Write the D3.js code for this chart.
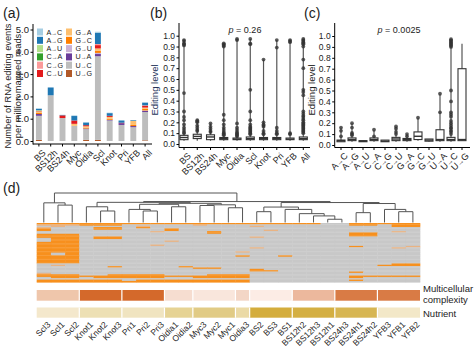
<!DOCTYPE html>
<html><head><meta charset="utf-8">
<script src="https://cdn.jsdelivr.net/npm/d3@7"></script>
<style>body{margin:0;background:#fff}svg{display:block}text{font-family:"Liberation Sans",Arial,sans-serif;fill:#222}</style>
</head><body><svg id="c" width="474" height="353"></svg>
<script>
// ---------------- DATA ----------------
const sampleGroups = ["BS","BS12h","BS24h","Myc","Oidia","Scl","Knot","Pri","YFB","All"];
const editTypes = ["A→C","A→G","A→U","C→A","C→G","C→U","G→A","G→C","G→U","U→A","U→C","U→G"];
const typeColors = ["#a6cee3","#1f78b4","#b2df8a","#33a02c","#fb9a99","#e31a1c","#fdbf6f","#ff7f00","#cab2d6","#6a3d9a","#bdbdbd","#b15928"];
// events per million mapped reads, per sample group
const evAC = [0.03,0.00,0.00,0.03,0.02,0.05,0.02,0.00,0.00,0.02];
const evAG = [0.06,0.35,0.02,0.20,0.12,0.50,0.12,0.10,0.03,0.12];
const evAU = [0.03,0.00,0.00,0.00,0.00,0.00,0.00,0.00,0.00,0.00];
const evCA = [0.00,0.00,0.00,0.00,0.00,0.00,0.00,0.00,0.00,0.00];
const evCG = [0.00,0.00,0.00,0.00,0.00,0.05,0.00,0.00,0.00,0.02];
const evCU = [0.02,0.00,0.12,0.15,0.05,0.15,0.05,0.02,0.00,0.08];
const evGA = [0.07,0.00,0.00,0.09,0.06,0.10,0.08,0.00,0.18,0.05];
const evGC = [0.05,0.00,0.00,0.00,0.04,0.10,0.05,0.00,0.05,0.08];
const evGU = [0.00,0.00,0.00,0.00,0.00,0.05,0.00,0.00,0.00,0.02];
const evUA = [0.08,0.00,0.00,0.00,0.03,0.10,0.03,0.08,0.05,0.05];
const evUC = [1.08,2.05,1.03,0.68,0.48,3.75,0.92,0.72,0.62,1.27];
const evUG = [0.05,0.00,0.00,0.00,0.05,0.05,0.00,0.00,0.00,0.03];
const eventSeries = [evAC,evAG,evAU,evCA,evCG,evCU,evGA,evGC,evGU,evUA,evUC,evUG];
const eventTicks = [0,1,2,3,4,5];

// (b) editing level by sample group
const levelTicks = [0,0.1,0.2,0.3,0.4,0.5,0.6,0.7,0.8,0.9,1.0];
const bLow = [0.03,0.03,0.03,0.03,0.03,0.03,0.03,0.03,0.03,0.03];
const bQ1  = [0.04,0.05,0.04,0.04,0.04,0.04,0.04,0.04,0.04,0.04];
const bMed = [0.06,0.07,0.065,0.05,0.045,0.05,0.05,0.05,0.045,0.05];
const bQ3  = [0.08,0.09,0.085,0.06,0.055,0.065,0.06,0.06,0.055,0.065];
const bOut = [
  [0.96,0.95,0.93,0.92,0.91,0.47,0.30,0.25,0.22,0.18,0.15,0.13,0.11,0.10],
  [0.22,0.21,0.20,0.17,0.15,0.13,0.12],
  [0.19,0.16,0.14,0.12,0.11],
  [0.93,0.92,0.91,0.90,0.27,0.22,0.18,0.15,0.13,0.11,0.10,0.09,0.08],
  [0.97,0.96,0.19,0.15,0.13,0.11,0.10,0.09,0.08,0.07],
  [0.97,0.93,0.92,0.50,0.30,0.22,0.18,0.16,0.15,0.14,0.13,0.12,0.11,0.10,0.09],
  [0.78,0.20,0.18,0.17,0.16,0.12,0.10,0.09],
  [0.96,0.89,0.15,0.12,0.10,0.09],
  [0.96,0.95,0.94,0.10,0.09],
  [0.97,0.96,0.95,0.94,0.93,0.92,0.90,0.78,0.70,0.50,0.48,0.45,0.30,0.28,0.26,0.25,0.23,0.22,0.20,0.19,0.18,0.17,0.16,0.15,0.14,0.13,0.12,0.11,0.10]
];
const bHigh = [0.96,0.22,0.19,0.93,0.97,0.97,0.78,0.96,0.96,0.97];

// (c) editing level by editing type
const cLow = [0.03,0.03,0.03,0.03,0.03,0.03,0.03,0.04,0.03,0.03,0.03,0.04];
const cQ1  = [0.03,0.04,0.03,0.04,0.03,0.04,0.04,0.05,0.035,0.04,0.04,0.04];
const cMed = [0.04,0.05,0.035,0.05,0.035,0.055,0.05,0.08,0.045,0.05,0.05,0.05];
const cQ3  = [0.045,0.065,0.04,0.065,0.045,0.07,0.06,0.12,0.055,0.14,0.07,0.70];
const cHigh = [0.16,0.20,0.04,0.14,0.045,0.17,0.10,0.25,0.055,0.47,0.97,0.93];
const cOut = [
  [0.16,0.13,0.08],[0.20,0.16,0.11,0.10,0.09],[],[0.14,0.08],[],[0.17,0.15,0.12,0.10],
  [0.10,0.08],[0.25],[],[0.47,0.30],
  [0.97,0.96,0.95,0.94,0.93,0.92,0.91,0.90,0.50,0.40,0.30,0.28,0.26,0.22,0.20,0.18,0.16,0.15,0.13,0.12,0.10],
  []
];
const pB = "0.26", pC = "0.0025";

// (d) heatmap
const libraries = ["Scl3","Scl1","Scl2","Knot1","Knot2","Knot3","Pri1","Pri2","Pri3","Oidia1","Oidia2","Myc3","Myc2","Myc1","Oidia3","BS2","BS3","BS1","BS12h2","BS12h3","BS12h1","BS24h3","BS24h1","BS24h2","YFB3","YFB1","YFB2"];
const heatRows = [
"111 111 111 11 111 1 111 110 011 111",
"222 111 000 00 200 0 000 000 011 011",
"020 000 020 00 000 0 200 000 000 011",
"200 011 010 00 000 0 000 000 000 000",
"100 011 000 10 000 0 000 000 000 000",
"100 000 000 10 000 0 020 000 000 000",
"000 000 002 00 010 0 000 000 000 020",
"000 000 000 00 010 0 000 000 011 000",
"111 000 000 00 000 0 000 000 011 000",
"111 000 000 00 000 0 000 000 011 000",
"111 011 000 00 000 0 200 000 000 000",
"011 011 000 00 000 0 000 000 000 000",
"011 000 000 00 000 0 000 000 000 000",
"011 000 000 20 000 0 000 000 000 000",
"111 000 000 00 000 0 000 000 000 000",
"111 000 000 00 000 0 000 000 000 000",
"111 000 002 00 000 0 000 000 000 000",
"111 000 000 00 000 0 000 000 010 002",
"111 000 000 00 000 0 200 000 000 020",
"111 000 000 00 000 0 000 000 000 000",
"111 000 000 00 000 0 000 000 000 000",
"111 000 000 00 000 2 000 000 000 000",
"101 000 000 00 000 0 000 000 000 000",
"101 000 000 00 000 0 000 000 000 000",
"111 000 000 00 000 1 001 000 000 000",
"111 000 000 00 000 0 000 000 000 000",
"111 000 000 00 000 0 000 000 000 000",
"111 000 000 00 000 0 000 000 000 000",
"111 000 000 00 000 0 000 000 000 000",
"111 000 000 00 000 0 000 000 000 000",
"000 000 000 00 000 0 000 000 000 011",
"020 000 000 00 000 0 000 000 000 111",
"000 001 000 01 000 0 000 000 000 000",
"000 000 000 00 110 0 000 000 000 000",
"000 000 000 00 000 0 100 000 000 000",
"000 000 000 00 000 0 110 000 000 000",
"000 000 000 00 000 0 000 000 010 000",
"200 000 000 00 000 0 000 000 000 000",
"111 001 111 00 011 1 000 000 000 000",
"111 111 111 11 111 1 000 000 011 111",
"011 011 111 00 111 1 000 000 010 000",
"000 000 000 00 000 0 000 000 000 000",
"111 111 011 11 111 1 000 000 010 000",
"111 111 111 11 111 1 000 000 000 000"
];
// dendrogram: [height, left, right]
const dendro = [30,
  [20, "Scl3", [17.7, "Scl1", "Scl2"]],
  [21.3,
    [20.5,
      [16, "Knot1", [11.7, "Knot2", "Knot3"]],
      [19.5,
        [18.5, [13.3, "Pri1", [11.7, "Pri2", "Pri3"]], [16, "Oidia1", "Oidia2"]],
        [18, [17.3, "Myc3", "Myc2"], [15, "Myc1", "Oidia3"]]
      ]
    ],
    [20.3,
      [15.7, [11, "BS2", "BS3"], [13.3, "BS1", [9, "BS12h2", [6.7, "BS12h3", [3.3, "BS12h1", "BS24h3"]]]]],
      [19.3, [10, "BS24h1", "BS24h2"], [13.3, "YFB3", [11, "YFB1", "YFB2"]]]
    ]
  ]
];
const segSizes = [3,3,3,2,3,1,3,3,3,3];
const complexityColors = ["#efc6ab","#d4692b","#d4692b","#f6ddd0","#f9e6dc","#f3d6c6","#fcece5","#ecb89d","#d97b45","#d97b45"];
const nutrientColors = ["#f4e8cc","#ede0b4","#f0e4c0","#e6d394","#e1cb85","#ebdaa6","#d4ad3d","#d4af42","#d7b652","#f3e8c8"];
const heatColors = {"0":"#c8c8c8","1":"#f7901e","2":"#e9b383"};

// ---------------- DRAW ----------------
const svg = d3.select("#c");
svg.append("rect").attr("width",474).attr("height",353).attr("fill","#fff");
function label(t,x,y){svg.append("text").attr("x",x).attr("y",y).attr("font-size",14).text(t);}
label("(a)",3,18); label("(b)",150,18); label("(c)",304,18); label("(d)",3,193);

function line(g,x1,y1,x2,y2,c,w){g.append("line").attr("x1",x1).attr("y1",y1).attr("x2",x2).attr("y2",y2).attr("stroke",c||"#000").attr("stroke-width",w||1);}
// write "X→Y" with a narrower arrow
function arrowText(sel,t,fs){
  const parts = t.split("→");
  sel.append("tspan").text(parts[0]);
  sel.append("tspan").attr("font-size",fs*0.8).text("→");
  sel.append("tspan").text(parts[1]);
}

// ---- (a)
const gA = svg.append("g");
const xA = d3.scaleBand().domain(sampleGroups).range([33,151]).paddingInner(0.5).paddingOuter(0.25);
const yA = d3.scaleLinear().domain([0,5]).range([141,29.5]);
const tableA = sampleGroups.map((g,i)=>{const o={group:g}; editTypes.forEach((t,j)=>o[t]=eventSeries[j][i]); return o;});
const stackA = d3.stack().keys(editTypes.slice().reverse())(tableA);
stackA.forEach(layer=>{
  const col = typeColors[editTypes.indexOf(layer.key)];
  gA.selectAll(null).data(layer).join("rect")
    .attr("x",d=>xA(d.data.group)).attr("width",xA.bandwidth())
    .attr("y",d=>yA(d[1])).attr("height",d=>Math.max(0,yA(d[0])-yA(d[1]))).attr("fill",col);
});
const axA = gA.append("g").attr("transform","translate(33,0)").call(d3.axisLeft(yA).tickValues(eventTicks).tickSize(2.5).tickPadding(1.5));
axA.select(".domain").remove();
axA.selectAll("text").attr("font-size",9.5).attr("fill","#222");
line(gA,33,24,33,144.5); line(gA,33,144,152,144);
sampleGroups.forEach(g=>{
  const x = xA(g)+xA.bandwidth()/2;
  line(gA,x,144,x,146.5);
  gA.append("text").attr("transform",`translate(${x+3},149) rotate(-45)`).attr("text-anchor","end").attr("dy","0.7em").attr("font-size",9).text(g);
});
gA.append("text").attr("transform","translate(11,86) rotate(-90)").attr("text-anchor","middle").attr("font-size",9.3).text("Number of RNA editing events");
gA.append("text").attr("transform","translate(21,86) rotate(-90)").attr("text-anchor","middle").attr("font-size",9.3).text("per million mapped reads");
// legend
editTypes.forEach((t,i)=>{
  const c = Math.floor(i/6), r = i%6;
  const x = 37 + c*29, y = 28.5 + r*8.3;
  gA.append("rect").attr("x",x).attr("y",y).attr("width",6).attr("height",7).attr("fill",typeColors[i]);
  const tx = gA.append("text").attr("x",x+9.5).attr("y",y+6).attr("font-size",7.2);
  arrowText(tx,t,7.2);
});

// ---- box panels
function boxPanel(cats, xr, yr, axisX, axisRight, low, q1, med, q3, high, outs, pval, pX, ylabX, ylabCol, isType){
  const g = svg.append("g");
  const x = d3.scalePoint().domain(cats).range(xr);
  const y = d3.scaleLinear().domain([0,1]).range(yr);
  const ax = g.append("g").attr("transform",`translate(${axisX},0)`).call(d3.axisLeft(y).tickValues(levelTicks).tickFormat(d3.format(".1f")).tickSize(2.5).tickPadding(1.5));
  ax.select(".domain").remove();
  ax.selectAll("text").attr("font-size",8.5).attr("fill","#222");
  line(g,axisX,23,axisX,147.5); line(g,axisX,147.5,axisRight,147.5);
  cats.forEach((c,i)=>{
    const cx = x(c), w = 8;
    line(g,cx,147.5,cx,150);
    line(g,cx,y(low[i]),cx,y(high[i]),"#555",1.2);
    g.append("rect").attr("x",cx-w/2).attr("y",y(q3[i])).attr("width",w).attr("height",Math.max(1,y(q1[i])-y(q3[i])))
      .attr("fill","#fff").attr("stroke","#333").attr("stroke-width",1.1);
    line(g,cx-w/2,y(med[i]),cx+w/2,y(med[i]),"#333",1.4);
    g.selectAll(null).data(outs[i]).join("circle").attr("cx",cx).attr("cy",d=>y(d)).attr("r",1.9).attr("fill","#333").attr("fill-opacity",0.8);
    const t = g.append("text").attr("transform",`translate(${cx+3},152) rotate(-45)`).attr("text-anchor","end").attr("dy","0.7em").attr("font-size",9);
    if(isType) arrowText(t,c,9); else t.text(c);
  });
  const pt = g.append("text").attr("x",pX).attr("y",33).attr("text-anchor","middle").attr("font-size",9);
  pt.append("tspan").attr("font-style","italic").text("p");
  pt.append("tspan").text(" = "+pval);
  g.append("text").attr("transform",`translate(${ylabX},90) rotate(-90)`).attr("text-anchor","middle").attr("font-size",9.5).style("fill",ylabCol).text("Editing level");
}
boxPanel(sampleGroups,[184,303.3],[144,35.7],179,310,bLow,bQ1,bMed,bQ3,bHigh,bOut,pB,245,158,"#25345a",false);
boxPanel(editTypes,[341,462],[145,36],334.7,470,cLow,cQ1,cMed,cQ3,cHigh,cOut,pC,399,315,"#222",true);

// ---- (d)
const gD = svg.append("g");
const xD = d3.scaleBand().domain(libraries).range([36.7,420]);
const cw = xD.bandwidth();
const heatTop = 223, heatBot = 282.3;
const yRow = d3.scaleBand().domain(d3.range(heatRows.length)).range([heatTop,heatBot]);
heatRows.forEach((rs,r)=>{
  const cells = rs.replace(/ /g,"").split("");
  gD.selectAll(null).data(cells).join("rect")
    .attr("x",(d,i)=>xD(libraries[i])).attr("width",cw+0.3)
    .attr("y",yRow(r)).attr("height",yRow.bandwidth()+0.3)
    .attr("fill",d=>heatColors[d]);
});
// dendrogram
const yDen = d3.scaleLinear().domain([0,30]).range([heatTop-0.5,193]);
function drawNode(n){
  if(typeof n === "string") return {x:xD(n)+cw/2, h:0};
  const a = drawNode(n[1]), b = drawNode(n[2]);
  const yh = yDen(n[0]);
  line(gD,a.x,yDen(a.h),a.x,yh,"#555",1);
  line(gD,b.x,yDen(b.h),b.x,yh,"#555",1);
  line(gD,a.x,yh,b.x,yh,"#555",1);
  return {x:(a.x+b.x)/2, h:n[0]};
}
drawNode(dendro);
// annotation bars
function annBar(colors,y0,h){
  let idx = 0;
  segSizes.forEach((s,k)=>{
    const x0 = xD(libraries[idx]), x1 = xD(libraries[idx+s-1])+cw;
    gD.append("rect").attr("x",x0).attr("y",y0).attr("width",x1-x0).attr("height",h).attr("fill",colors[k]);
    if(k>0) line(gD,x0,y0,x0,y0+h,"#fff",1.2);
    idx += s;
  });
}
annBar(complexityColors,290,10.7);
annBar(nutrientColors,307.5,10.2);
gD.append("text").attr("x",423).attr("y",291.5).attr("font-size",9.5).text("Multicellular");
gD.append("text").attr("x",423).attr("y",302.5).attr("font-size",9.5).text("complexity");
gD.append("text").attr("x",423).attr("y",316.5).attr("font-size",9.5).text("Nutrient");
libraries.forEach(l=>{
  const x = xD(l)+cw/2;
  gD.append("text").attr("transform",`translate(${x+3},321) rotate(-45)`).attr("text-anchor","end").attr("dy","0.7em").attr("font-size",8.5).text(l);
});
</script></body></html>
